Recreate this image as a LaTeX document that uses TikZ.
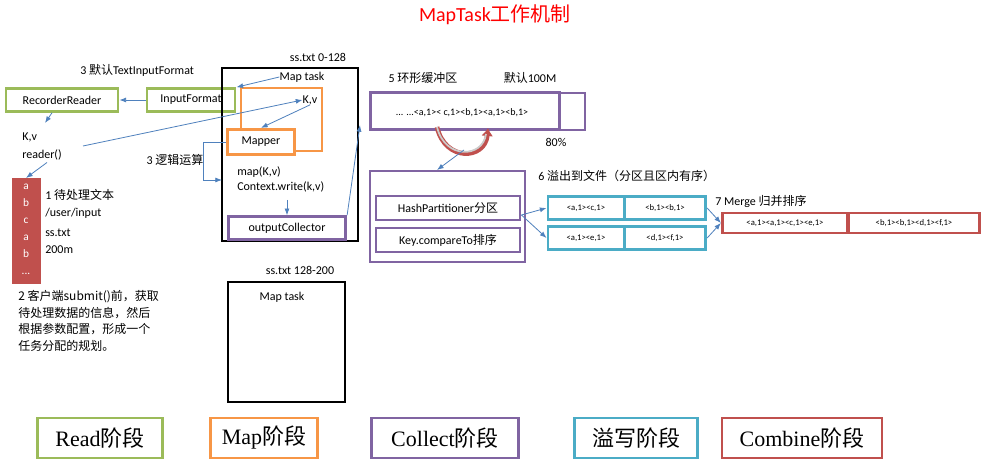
\documentclass[tikz,border=0pt]{standalone}
\usepackage{fontspec}
\setmainfont{Carlito}
\newfontfamily\cjk{Noto Sans CJK SC}
\newfontfamily\serifl{Liberation Serif}
\usetikzlibrary{arrows.meta}
\definecolor{cg}{HTML}{9BBB59}\definecolor{co}{HTML}{F79646}\definecolor{cp}{HTML}{8064A2}
\definecolor{cc}{HTML}{4BACC6}\definecolor{cr}{HTML}{C0504D}\definecolor{cb}{HTML}{4F81BD}
\begin{document}
\begin{tikzpicture}[x=0.75pt,y=-0.75pt,
 bx/.style={draw=#1,line width=2.2pt},
 txt/.style={font=\fontsize{9}{10}\selectfont,inner sep=0pt},
 sm/.style={font=\fontsize{6.5}{7}\selectfont,inner sep=0pt},
 ar/.style={draw=cb,-{Latex[length=5pt]},line width=0.6pt},
 leg/.style={draw=#1,line width=2.2pt,font=\fontsize{16.5}{18}\selectfont\serifl,minimum height=30pt,inner sep=0pt}]
\useasboundingbox[fill=white] (0,0) rectangle (990,463);
\node[text=red,font=\fontsize{15}{16}\selectfont] (title) at (495,15) {MapTask{\cjk 工作机制}};
% read
\node[bx=cg,txt,minimum width=84pt,minimum height=17pt] (rr) at (62,100) {RecorderReader};
\node[bx=cg,txt,minimum width=66pt,minimum height=17pt] (inf) at (191,100) {InputFormat};
\node[txt,anchor=west] (t3) at (80,70) {3 {\cjk 默认}TextInputFormat};
\node[txt,anchor=west] (kv1) at (22,137) {K,v};
\node[txt,anchor=west] (rd) at (22,155) {reader()};
\draw[cr,fill=cr] (12,178) rectangle (40,283);
\node[txt,text=white,align=center,font=\fontsize{8.5}{12.7}\selectfont] (col) at (26,229) {a\\b\\c\\a\\b\\...};
\coordinate (colt) at (26,178);
\node[txt,anchor=west] (n1) at (45,195) {1 {\cjk 待处理文本}};
\node[txt,anchor=west] (n2) at (45,213) {/user/input};
\node[txt,anchor=west] (n3) at (45,233) {ss.txt};
\node[txt,anchor=west] (n4) at (45,250) {200m};
\node[txt,anchor=north west,align=left,font=\fontsize{9}{12.5}\selectfont\cjk] (n5) at (18,290) {2 客户端submit()前，获取\\待处理数据的信息，然后\\根据参数配置，形成一个\\任务分配的规划。};
% map task
\node[txt] (ss1) at (318,57) {ss.txt 0-128};
\draw[line width=2.2pt] (222,68) rectangle (358,241);
\node[txt] (mt) at (302,77) {Map task};
\draw[co,line width=2.2pt] (241,88) rectangle (322,151);
\node[txt] (kv2) at (310,100) {K,v};
\node[bx=co,txt,fill=white,minimum width=50pt,minimum height=19pt] (mp) at (261,142) {Mapper};
\node[txt,anchor=west] (m1) at (237,172) {map(K,v)};
\node[txt,anchor=west] (m2) at (237,187) {Context.write(k,v)};
\node[bx=cp,txt,minimum width=88pt,minimum height=17pt] (oc) at (287,228) {outputCollector};
\node[txt] (t3b) at (175,160) {3 {\cjk 逻辑运算}};
\node[txt] (ss2) at (300,270) {ss.txt 128-200};
\draw[line width=2.2pt] (228,282) rectangle (345,402);
\node[txt] (mt2) at (282,297) {Map task};
% arrows
\draw[ar] (inf) -- (rr);
\draw[ar] (mt.west) -- (inf.north east);
\draw[ar] (rr.south) ++(-10,0) -- (45,123);
\draw[ar] (83,146) -- (kv2.west);
\draw[ar] (rd.south) ++(5,2) -- (colt);
\draw[ar] (kv2.south) -- (mp.north);
\draw[ar] (mp.west) -- (203,142) -- (203,180) -- (222,180);
\draw[ar] (287,200) -- (oc.north);
\draw[ar] (oc.north east) -- (360,125);
% buffer
\node[txt] (t5) at (423,78) {5 {\cjk 环形缓冲区}};
\node[txt] (t5b) at (530,78) {{\cjk 默认}100M};
\node[bx=cp,minimum width=142pt,minimum height=28pt,inner sep=0pt] (buf) at (465,111) {};
\draw[cp,line width=2.2pt] (560,93) rectangle (585,130);
\node[sm,font=\fontsize{7.5}{8}\selectfont] (buft) at (462,113) {... ...<a,1>< c,1><b,1><a,1><b,1>};
\node[txt] (p80) at (556,142) {80\%};
\draw[cr,line width=3.5pt,-{Latex[length=6pt,width=9pt]}] (437,127) .. controls (445,162) and (485,160) .. (488,128);
\draw[gray!40,line width=1.3pt] (437,127) .. controls (445,160) and (483,158) .. (486,134);
% collect
\draw[cp,line width=2.2pt] (370,171) rectangle (525,262);
\node[bx=cp,txt,minimum width=108pt,minimum height=18pt] (hp) at (448,208) {HashPartitioner{\cjk 分区}};
\node[bx=cp,txt,minimum width=108pt,minimum height=18pt] (kc) at (448,240) {Key.compareTo{\cjk 排序}};
\draw[ar] (464,150) -- (437,170);
\node[txt,anchor=west] (t6) at (538,176) {6 {\cjk 溢出到文件（分区且区内有序）}};
% spill
\node[bx=cc,sm,minimum width=57pt,minimum height=17pt] (s1) at (586,208) {<a,1><c,1>};
\node[bx=cc,sm,minimum width=61pt,minimum height=17pt] (s2) at (665,208) {<b,1><b,1>};
\node[bx=cc,sm,minimum width=57pt,minimum height=17pt] (s3) at (586,238) {<a,1><e,1>};
\node[bx=cc,sm,minimum width=61pt,minimum height=17pt] (s4) at (665,238) {<d,1><f,1>};
\draw[ar] (hp.east) ++(0,7) -- (s1.west);
\draw[ar] (hp.east) ++(0,7) -- (s3.west);
\node[txt,anchor=west] (t7) at (715,201) {7 Merge {\cjk 归并排序}};
\node[bx=cr,sm,minimum width=94pt,minimum height=15pt] (g1) at (785,223) {<a,1><a,1><c,1><e,1>};
\node[bx=cr,sm,minimum width=98pt,minimum height=15pt] (g2) at (914,223) {<b,1><b,1><d,1><f,1>};
\draw[ar] (s2.east) -- (g1.west);
\draw[ar] (s4.east) -- (g1.west);
% legend
\node[leg=cg,minimum width=94pt] (l1) at (100,438) {Read{\cjk 阶段}};
\node[leg=co,minimum width=80pt] (l2) at (264,438) {Map{\cjk 阶段}};
\node[leg=cp,minimum width=110pt] (l3) at (445,438) {Collect{\cjk 阶段}};
\node[leg=cc,minimum width=92pt] (l4) at (636,438) {{\cjk 溢写阶段}};
\node[leg=cr,minimum width=120pt] (l5) at (802,438) {Combine{\cjk 阶段}};
\end{tikzpicture}
\end{document}
